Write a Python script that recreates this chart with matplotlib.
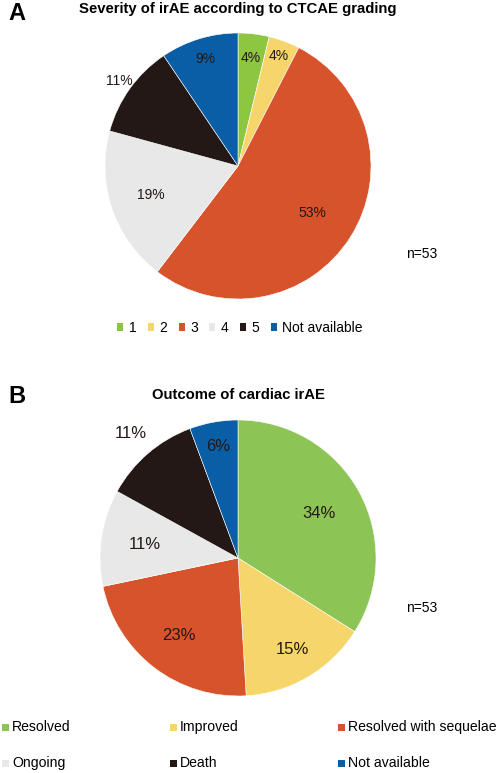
import matplotlib.pyplot as plt
from matplotlib.patches import Patch, Rectangle
import numpy as np

plt.rcParams['font.family'] = ['Liberation Sans', 'DejaVu Sans']

# panel A: CTCAE grade counts (n=53)
grades = ["1", "2", "3", "4", "5", "Not available"]
grade_counts = [2, 2, 28, 10, 6, 5]
grade_colors = ["#8DC640", "#F6D66B", "#D6532B", "#E8E8E8", "#231815", "#0A5EA6"]
grade_label_dist = [0.82, 0.88, 0.66, 0.69, 1.10, 0.84]

# panel B: outcome counts (n=53)
outcomes = ["Resolved", "Improved", "Resolved with sequelae", "Ongoing", "Death", "Not available"]
outcome_counts = [18, 8, 12, 6, 6, 3]
outcome_colors = ["#8DC456", "#F6D66B", "#D6532B", "#E8E8E8", "#231815", "#0A5EA6"]
outcome_label_dist = [0.67, 0.77, 0.71, 0.68, 1.19, 0.82]

W, H = 501, 773
fig = plt.figure(figsize=(W / 100, H / 100), dpi=100)


def pie_axes(cx, cy, r):
    return fig.add_axes([(cx - r) / W, (H - cy - r) / H, 2 * r / W, 2 * r / H])


def draw_pie(ax, counts, colors, dists, fs):
    wedges, _ = ax.pie(counts, colors=colors, startangle=90, counterclock=False,
                       wedgeprops=dict(edgecolor="white", linewidth=0.4))
    total = sum(counts)
    for w, c, d in zip(wedges, counts, dists):
        ang = np.deg2rad((w.theta1 + w.theta2) / 2)
        ax.text(d * np.cos(ang), d * np.sin(ang), f"{100 * c / total:.0f}%",
                ha="center", va="center", fontsize=fs, color="#231815")
    ax.set_xlim(-1, 1)
    ax.set_ylim(-1, 1)
    ax.set_aspect("equal")
    ax.axis("off")


axA = pie_axes(238, 166, 133)
draw_pie(axA, grade_counts, grade_colors, grade_label_dist, 10)

axB = pie_axes(238, 558, 138)
draw_pie(axB, outcome_counts, outcome_colors, outcome_label_dist, 12)

# titles and panel letters
fig.text(8 / W, 1 - 14 / H, "A", fontsize=17, fontweight="bold", va="center", ha="left")
fig.text(238 / W, 1 - 9 / H, "Severity of irAE according to CTCAE grading",
         fontsize=10.7, fontweight="bold", va="center", ha="center")
fig.text(8 / W, 1 - 396 / H, "B", fontsize=17, fontweight="bold", va="center", ha="left")
fig.text(238 / W, 1 - 395 / H, "Outcome of cardiac irAE",
         fontsize=10.7, fontweight="bold", va="center", ha="center")

fig.text(422 / W, 1 - 254 / H, "n=53", fontsize=10, va="center", ha="center")
fig.text(422 / W, 1 - 608 / H, "n=53", fontsize=10, va="center", ha="center")

# legend A (one row)
handles = [Patch(facecolor=c, edgecolor="none") for c in grade_colors]
fig.legend(handles, grades, loc="center", bbox_to_anchor=(240 / W, 1 - 328 / H),
           ncol=6, frameon=False, fontsize=10, handlelength=0.45, handleheight=0.45,
           handletextpad=0.4, columnspacing=0.8, borderaxespad=0)

# legend B (3 x 2 grid)
for i, (lab, col) in enumerate(zip(outcomes, outcome_colors)):
    x = 2 + (i % 3) * 168
    y = 727 + (i // 3) * 36
    fig.patches.append(Rectangle((x / W, 1 - (y + 3.5) / H), 7 / W, 7 / H,
                                 transform=fig.transFigure, facecolor=col, edgecolor="none"))
    fig.text((x + 10) / W, 1 - y / H, lab, fontsize=10.1, va="center", ha="left")

fig.savefig("out.png", dpi=100)
